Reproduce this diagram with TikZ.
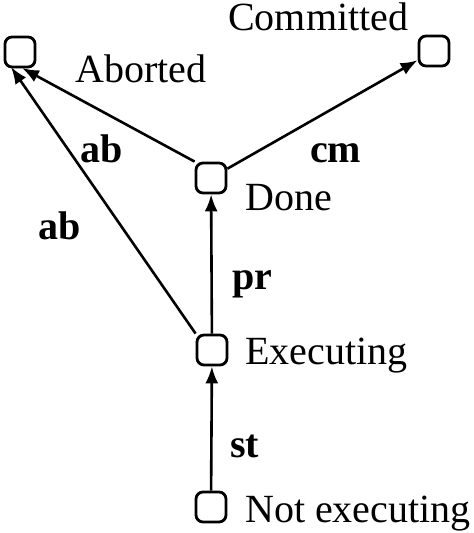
\documentclass[tikz,border=0pt]{standalone}
\usepackage{fontspec}
\setmainfont{Liberation Serif}
\usetikzlibrary{arrows.meta}
\begin{document}
\begin{tikzpicture}[x=1pt,y=1pt,
  state/.style={draw,line width=2.8pt,rounded corners=7pt,minimum width=30pt,minimum height=30pt,inner sep=0pt},
  lbl/.style={anchor=base west,inner sep=0pt,font=\fontsize{40}{44}\selectfont},
  elbl/.style={anchor=base west,inner sep=0pt,font=\fontsize{40}{44}\selectfont\bfseries},
  edge/.style={line width=2.6pt,-{Latex[length=17pt,width=13pt]}}]
\useasboundingbox (0,0) rectangle (474,533);
\node[state] (ne) at (211,26) {};
\node[state] (ex) at (212,183) {};
\node[state] (dn) at (211,355) {};
\node[state] (ab) at (20,481) {};
\node[state] (cm) at (434,482) {};
\coordinate (abt1) at (11,466);
\coordinate (abt2) at (22,465);
\node[lbl] (lne) at (245,10) {Not executing};
\node[lbl] (lex) at (245,168) {Executing};
\node[lbl] (ldn) at (245,322) {Done};
\node[lbl] (lab) at (75,450) {Aborted};
\node[lbl] (lcm) at (228,502) {Committed};
\draw[edge] (ne) -- (ex);
\draw[edge] (ex) -- (dn);
\draw[edge] (ex.north west) -- (abt1);
\draw[edge] (dn.north west) -- (abt2);
\draw[edge] (dn) -- (cm);
\node[elbl] (e1) at (230,75) {st};
\node[elbl] (e2) at (232,243) {pr};
\node[elbl] (e3) at (38,293) {ab};
\node[elbl] (e4) at (80,370) {ab};
\node[elbl] (e5) at (310,370) {cm};
\end{tikzpicture}
\end{document}
